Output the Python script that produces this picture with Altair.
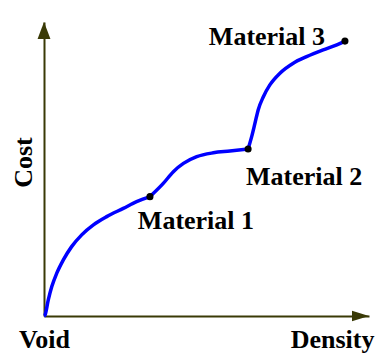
import altair as alt
import pandas as pd

# Curve segments (Density, Cost) in arbitrary units 0..10
seg1_x = [0.0, 0.03, 0.13, 0.24, 0.39, 0.59, 0.85, 1.16, 1.52, 1.93, 2.44, 2.85, 3.26]
seg1_y = [0.0, 0.03, 0.54, 1.00, 1.45, 1.90, 2.36, 2.76, 3.10, 3.38, 3.66, 3.89, 4.06]
seg2_x = [3.26, 3.67, 3.98, 4.29, 4.70, 5.21, 5.72, 6.28]
seg2_y = [4.06, 4.51, 4.91, 5.19, 5.42, 5.55, 5.61, 5.68]
seg3_x = [6.28, 6.39, 6.49, 6.59, 6.75, 6.95, 7.26, 7.67, 8.08, 8.59, 9.01, 9.26]
seg3_y = [5.68, 6.10, 6.55, 7.01, 7.46, 7.86, 8.26, 8.60, 8.82, 9.05, 9.22, 9.35]

materials = ["Material 1", "Material 2", "Material 3"]
mat_x = [3.26, 6.28, 9.26]
mat_y = [4.06, 5.68, 9.35]

rows = []
for name, xs, ys in [("s1", seg1_x, seg1_y), ("s2", seg2_x, seg2_y), ("s3", seg3_x, seg3_y)]:
    for i, (a, b) in enumerate(zip(xs, ys)):
        rows.append({"seg": name, "order": i, "x": a, "y": b})
curve = pd.DataFrame(rows)
pts = pd.DataFrame({"name": materials, "x": mat_x, "y": mat_y})

AXIS_COLOR = "#3a3a06"
FONT = "Liberation Serif"
FS = 26

xscale = alt.Scale(domain=[0, 10], nice=False, zero=False)
yscale = alt.Scale(domain=[0, 10], nice=False, zero=False)

xaxis = alt.Axis(
    values=[0], labelExpr="'Void'", labelFont=FONT, labelFontSize=FS, labelFontWeight="bold",
    labelColor="black", labelFlush=False, labelPadding=10, ticks=False, grid=False,
    domainColor=AXIS_COLOR, domainWidth=2,
    title="Density", titleFont=FONT, titleFontSize=FS, titleFontWeight="bold", titleColor="black",
    titleAlign="right", titleAnchor="end", titleX=330, titleY=31, titleBaseline="alphabetic",
)
yaxis = alt.Axis(
    labels=False, ticks=False, grid=False, domainColor=AXIS_COLOR, domainWidth=2,
    title="Cost", titleFont=FONT, titleFontSize=FS, titleFontWeight="bold", titleColor="black",
    titleAngle=270, titleAlign="center", titleBaseline="alphabetic", titleX=-13, titleY=140,
)

line = alt.Chart(curve).mark_line(color="#0000ff", strokeWidth=3.5, interpolate="monotone").encode(
    x=alt.X("x:Q", scale=xscale, axis=xaxis),
    y=alt.Y("y:Q", scale=yscale, axis=yaxis),
    detail="seg:N",
    order="order:Q",
)

dots = alt.Chart(pts).mark_point(filled=True, color="black", size=50, opacity=1).encode(
    x=alt.X("x:Q", scale=xscale), y=alt.Y("y:Q", scale=yscale)
)

offsets = {"Material 1": (46, 32), "Material 2": (56, 36), "Material 3": (-78, 4)}
texts = []
for m in materials:
    dx, dy = offsets[m]
    texts.append(
        alt.Chart(pts).transform_filter(alt.datum.name == m).mark_text(
            font=FONT, fontSize=FS, fontWeight="bold", color="black",
            align="center", baseline="alphabetic", dx=dx, dy=dy
        ).encode(x=alt.X("x:Q", scale=xscale), y=alt.Y("y:Q", scale=yscale), text="name:N")
    )

arrows = pd.DataFrame({"x": [10, 0], "y": [0, 10], "dir": ["right", "up"]})
arrow_r = alt.Chart(arrows).transform_filter(alt.datum.dir == "right").mark_point(
    shape="M0,0L-2,-0.62L-2,0.62Z", filled=True, color=AXIS_COLOR, size=289, opacity=1
).encode(x=alt.X("x:Q", scale=xscale), y=alt.Y("y:Q", scale=yscale))
arrow_u = alt.Chart(arrows).transform_filter(alt.datum.dir == "up").mark_point(
    shape="M0,0L-0.76,2L0.76,2Z", filled=True, color=AXIS_COLOR, size=289, opacity=1
).encode(x=alt.X("x:Q", scale=xscale), y=alt.Y("y:Q", scale=yscale))

chart = alt.layer(line, arrow_r, arrow_u, dots, *texts).properties(
    width=325, height=294,
    autosize=alt.AutoSizeParams(type="none"),
    padding={"left": 36, "top": 14, "right": 8, "bottom": 40},
).configure_view(strokeWidth=0)

chart.save("out.html", embed_options={"renderer": "svg", "actions": False})
